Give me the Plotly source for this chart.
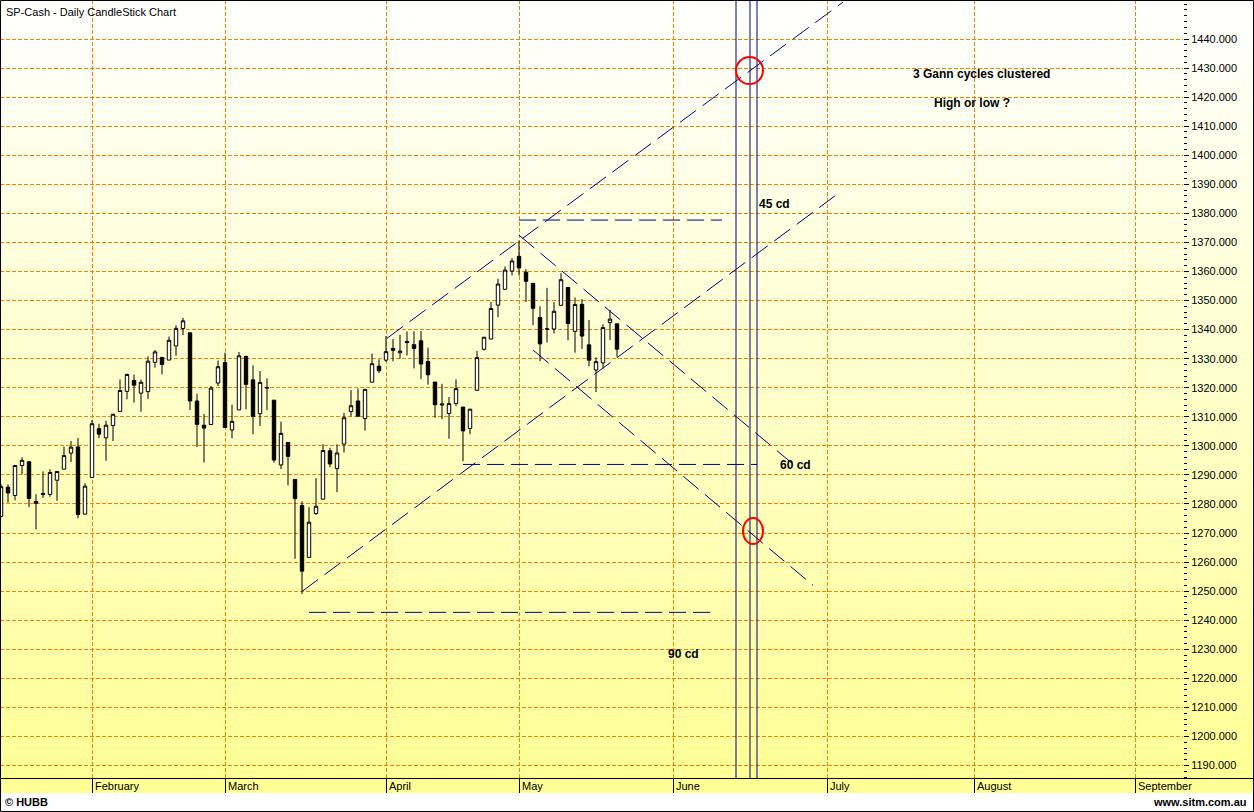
import plotly.graph_objects as go

# ---------------- data (SP-Cash daily) ----------------
dates = ["2011-01-12", "2011-01-13", "2011-01-14", "2011-01-18", "2011-01-19", "2011-01-20",
         "2011-01-21", "2011-01-24", "2011-01-25", "2011-01-26", "2011-01-27", "2011-01-28",
         "2011-01-31", "2011-02-01", "2011-02-02", "2011-02-03", "2011-02-04", "2011-02-07",
         "2011-02-08", "2011-02-09", "2011-02-10", "2011-02-11", "2011-02-14", "2011-02-15",
         "2011-02-16", "2011-02-17", "2011-02-18", "2011-02-22", "2011-02-23", "2011-02-24",
         "2011-02-25", "2011-02-28", "2011-03-01", "2011-03-02", "2011-03-03", "2011-03-04",
         "2011-03-07", "2011-03-08", "2011-03-09", "2011-03-10", "2011-03-11", "2011-03-14",
         "2011-03-15", "2011-03-16", "2011-03-17", "2011-03-18", "2011-03-21", "2011-03-22",
         "2011-03-23", "2011-03-24", "2011-03-25", "2011-03-28", "2011-03-29", "2011-03-30",
         "2011-03-31", "2011-04-01", "2011-04-04", "2011-04-05", "2011-04-06", "2011-04-07",
         "2011-04-08", "2011-04-11", "2011-04-12", "2011-04-13", "2011-04-14", "2011-04-15",
         "2011-04-18", "2011-04-19", "2011-04-20", "2011-04-21", "2011-04-26", "2011-04-27",
         "2011-04-28", "2011-04-29", "2011-05-02", "2011-05-03", "2011-05-04", "2011-05-05",
         "2011-05-06", "2011-05-09", "2011-05-10", "2011-05-11", "2011-05-12", "2011-05-13",
         "2011-05-16", "2011-05-17", "2011-05-18", "2011-05-19", "2011-05-20"]

opens = [1275.65, 1285.78, 1282.90, 1293.22, 1294.52, 1280.85, 1283.63, 1283.29, 1288.17, 1291.97,
         1297.51, 1299.63, 1276.50, 1289.14, 1305.91, 1302.77, 1307.01, 1311.85, 1318.76, 1322.48,
         1318.13, 1318.66, 1328.73, 1330.43, 1329.51, 1334.37, 1340.38, 1338.91, 1315.44, 1307.09,
         1307.34, 1321.61, 1328.64, 1305.47, 1312.37, 1330.73, 1322.72, 1311.05, 1319.92, 1315.72,
         1293.43, 1301.19, 1288.46, 1279.46, 1261.61, 1276.71, 1281.65, 1298.29, 1292.19, 1300.61,
         1311.80, 1315.45, 1309.37, 1321.89, 1327.44, 1329.48, 1333.56, 1332.03, 1335.94, 1334.82,
         1336.16, 1329.01, 1321.96, 1314.03, 1311.13, 1314.54, 1313.35, 1305.99, 1319.12, 1333.23,
         1336.75, 1348.43, 1353.86, 1360.14, 1365.21, 1359.76, 1355.90, 1344.16, 1340.24, 1340.20,
         1348.34, 1354.51, 1339.39, 1348.69, 1334.77, 1326.10, 1328.54, 1342.40, 1342.00]

highs = [1286.87, 1286.70, 1293.24, 1296.06, 1294.60, 1283.35, 1291.21, 1291.93, 1291.26, 1299.74,
         1301.63, 1302.67, 1287.17, 1308.86, 1307.61, 1308.60, 1311.00, 1322.85, 1324.87, 1324.54,
         1322.78, 1330.79, 1332.96, 1330.43, 1337.61, 1341.50, 1344.07, 1338.91, 1317.91, 1310.91,
         1320.61, 1329.38, 1332.09, 1314.19, 1332.28, 1331.08, 1327.68, 1325.74, 1323.21, 1315.72,
         1308.35, 1301.19, 1288.46, 1280.91, 1278.88, 1288.88, 1300.58, 1299.35, 1300.51, 1311.34,
         1319.18, 1319.74, 1319.45, 1331.74, 1329.77, 1337.85, 1336.74, 1338.21, 1339.38, 1339.46,
         1339.46, 1333.77, 1321.96, 1321.35, 1316.79, 1322.88, 1313.35, 1312.70, 1332.66, 1337.49,
         1349.55, 1357.49, 1361.71, 1364.56, 1370.58, 1360.84, 1355.90, 1348.00, 1354.36, 1349.44,
         1359.44, 1354.51, 1351.05, 1350.47, 1343.33, 1330.42, 1341.82, 1346.82, 1342.00]

lows = [1275.65, 1280.47, 1281.24, 1290.16, 1278.92, 1271.26, 1282.07, 1282.47, 1281.07, 1291.97,
        1294.42, 1275.10, 1276.50, 1289.14, 1302.62, 1294.83, 1301.67, 1311.85, 1316.03, 1314.89,
        1311.74, 1316.08, 1326.90, 1324.61, 1329.51, 1331.00, 1338.12, 1312.33, 1299.55, 1294.26,
        1307.34, 1320.55, 1306.14, 1302.58, 1312.37, 1312.59, 1303.99, 1306.86, 1312.27, 1294.21,
        1291.99, 1286.37, 1261.12, 1249.05, 1261.61, 1276.18, 1281.65, 1292.70, 1284.05, 1297.74,
        1310.15, 1310.19, 1305.26, 1321.89, 1325.03, 1328.89, 1329.10, 1330.03, 1331.09, 1326.66,
        1322.94, 1321.06, 1309.66, 1309.19, 1302.42, 1313.68, 1294.70, 1303.97, 1319.12, 1332.82,
        1336.75, 1344.25, 1353.60, 1358.69, 1358.59, 1349.52, 1341.50, 1329.17, 1335.58, 1338.64,
        1348.34, 1336.36, 1332.03, 1333.36, 1327.32, 1318.51, 1326.59, 1336.36, 1330.67]

closes = [1285.96, 1283.76, 1293.24, 1295.02, 1281.92, 1280.26, 1283.35, 1290.84, 1291.18, 1296.63,
          1299.54, 1276.34, 1286.12, 1307.59, 1304.03, 1307.10, 1310.87, 1319.05, 1324.57, 1320.88,
          1321.87, 1329.15, 1332.32, 1328.01, 1336.32, 1340.43, 1343.01, 1315.44, 1307.40, 1306.10,
          1319.88, 1327.22, 1306.33, 1308.44, 1330.97, 1321.15, 1310.13, 1321.82, 1320.02, 1295.11,
          1304.28, 1296.39, 1281.87, 1256.88, 1273.72, 1279.21, 1298.38, 1293.77, 1297.54, 1309.66,
          1313.80, 1310.19, 1319.44, 1328.26, 1325.83, 1332.41, 1332.87, 1332.63, 1335.54, 1333.51,
          1328.17, 1324.46, 1314.16, 1314.41, 1314.52, 1319.68, 1305.14, 1312.62, 1330.36, 1337.38,
          1347.24, 1355.66, 1360.48, 1363.61, 1361.22, 1356.62, 1347.32, 1335.10, 1340.20, 1346.29,
          1357.16, 1342.08, 1348.65, 1337.77, 1329.47, 1328.98, 1340.68, 1343.60, 1333.27]

# bar index of the first bar of each month (future months on weekday spacing)
month_labels = ["February", "March", "April", "May", "June", "July", "August", "September"]
month_idx = [13, 32, 55, 74, 96, 118, 139, 162]

y_ticks = [1190, 1200, 1210, 1220, 1230, 1240, 1250, 1260, 1270, 1280, 1290, 1300, 1310,
           1320, 1330, 1340, 1350, 1360, 1370, 1380, 1390, 1400, 1410, 1420, 1430, 1440]

# Gann cycle dates (bar index)
cycle_idx = [105, 107, 108]
# sloping trend lines: (idx0, price0, idx1, price1)
trend_lines = [(43.0, 1249.9, 119.86, 1387.3),
               (55.14, 1337.0, 120.3, 1452.7),
               (74.0, 1372.5, 113.7, 1292.6),
               (76.04, 1332.9, 116.0, 1252.0)]
# horizontal levels: (idx0, idx1, price)
level_lines = [(74.0, 103.0, 1377.7),
               (66.0, 108.0, 1293.6),
               (44.0, 101.3, 1242.7)]
# highlight ellipses: (idx0, idx1, price0, price1)
circles = [(105.0, 108.86, 1424.5, 1433.8),
           (106.0, 108.86, 1266.2, 1275.2)]
# text notes: (text, idx, price, anchor)
notes = [("45 cd", 108.0, 1383.2, "left"),
         ("60 cd", 111.0, 1293.4, "left"),
         ("90 cd", 95.0, 1228.4, "left"),
         ("3 Gann cycles clustered", 140.1, 1428.0, "center"),
         ("High or low ?", 138.7, 1418.0, "center")]

# ---------------- geometry ----------------
W, H = 1254, 812
ML, MR, MT, MB = 0, 71, 0, 34
PW = W - ML - MR           # 1183
PH = H - MT - MB           # 778
BAR_PX = 7.0
x_lo = -1.0 / BAR_PX
x_hi = x_lo + PW / BAR_PX
y_lo, y_hi = 1185.7, 1453.42

def px_x(p):
    return (p - ML) / PW

def px_y(p):
    return (MT + PH - p) / PH

ORANGE = "#FF8000"
NAVY = "#000080"
FONT = "Liberation Sans"

x = list(range(len(dates)))

fig = go.Figure()
fig.add_trace(go.Candlestick(
    x=x, open=opens, high=highs, low=lows, close=closes,
    text=dates, hoverinfo="text+y",
    increasing=dict(fillcolor="white", line=dict(color="black", width=1)),
    decreasing=dict(fillcolor="black", line=dict(color="black", width=1)),
    whiskerwidth=0, showlegend=False))

shapes = []
# background gradient (white at top -> pale yellow at bottom)
top_c = (255, 255, 255)
bot_c = (255, 255, 150)
n_bands = 78
band_h = 779 / n_bands
for k in range(n_bands):
    t = (k + 0.5) / n_bands
    c = tuple(int(round(top_c[j] + (bot_c[j] - top_c[j]) * t)) for j in range(3))
    shapes.append(dict(type="rect", xref="paper", yref="paper", layer="below",
                       x0=px_x(0), x1=px_x(W), y0=px_y(k * band_h), y1=px_y((k + 1) * band_h + 0.6),
                       fillcolor="rgb(%d,%d,%d)" % c, line=dict(width=0)))
shapes.append(dict(type="rect", xref="paper", yref="paper", layer="below",
                   x0=px_x(0), x1=px_x(W), y0=px_y(778), y1=px_y(793),
                   fillcolor="rgb(%d,%d,%d)" % bot_c, line=dict(width=0)))
# axis baseline across the full width
shapes.append(dict(type="line", xref="paper", yref="paper", x0=px_x(0), x1=px_x(W),
                   y0=px_y(778.5), y1=px_y(778.5), line=dict(color="black", width=1)))

# Gann cycle verticals
for c in cycle_idx:
    shapes.append(dict(type="line", xref="x", yref="paper", x0=c, x1=c, y0=0, y1=1,
                       line=dict(color=NAVY, width=1)))
# trend lines
for (a0, p0, a1, p1) in trend_lines:
    shapes.append(dict(type="line", xref="x", yref="y", x0=a0, y0=p0, x1=a1, y1=p1,
                       line=dict(color=NAVY, width=1, dash="20px,8px")))
for (a0, a1, p) in level_lines:
    shapes.append(dict(type="line", xref="x", yref="y", x0=a0, y0=p, x1=a1, y1=p,
                       line=dict(color=NAVY, width=1, dash="17px,7px")))
for (a0, a1, p0, p1) in circles:
    shapes.append(dict(type="circle", xref="x", yref="y", x0=a0, x1=a1, y0=p0, y1=p1,
                       line=dict(color="#FF0000", width=2)))

# figure border
shapes.append(dict(type="rect", xref="paper", yref="paper",
                   x0=px_x(0.5), x1=px_x(W - 0.5), y0=px_y(H - 0.5), y1=px_y(0.5),
                   line=dict(color="black", width=1), fillcolor="rgba(0,0,0,0)"))

annotations = []
annotations.append(dict(text="SP-Cash - Daily CandleStick Chart", xref="paper", yref="paper",
                        x=px_x(4), y=px_y(12), xanchor="left", yanchor="middle", showarrow=False,
                        font=dict(family=FONT, size=11, color="black")))
for lab, mi in zip(month_labels, month_idx):
    annotations.append(dict(text=lab, xref="x", yref="paper", x=mi + 0.15, y=px_y(786),
                            xanchor="left", yanchor="middle", showarrow=False,
                            font=dict(family=FONT, size=11, color="black")))
for (txt, a, p, anc) in notes:
    annotations.append(dict(text=txt, xref="x", yref="y", x=a, y=p, xanchor=anc,
                            yanchor="middle", showarrow=False,
                            font=dict(family=FONT, size=12, color="black", weight="bold")))
annotations.append(dict(text="© HUBB", xref="paper", yref="paper", x=px_x(3), y=px_y(802),
                        xanchor="left", yanchor="middle", showarrow=False,
                        font=dict(family=FONT, size=11, color="black", weight="bold")))
annotations.append(dict(text="www.sitm.com.au", xref="paper", yref="paper", x=px_x(1249), y=px_y(802),
                        xanchor="right", yanchor="middle", showarrow=False,
                        font=dict(family=FONT, size=11, color="black", weight="bold")))

fig.update_layout(
    width=W, height=H,
    margin=dict(l=ML, r=MR, t=MT, b=MB, pad=0),
    paper_bgcolor="white", plot_bgcolor="rgba(0,0,0,0)",
    showlegend=False,
    shapes=shapes, annotations=annotations,
    xaxis=dict(range=[x_lo, x_hi], tickmode="array", tickvals=month_idx,
               showticklabels=False, ticks="outside", ticklen=14, tickcolor="black", tickwidth=1,
               showgrid=True, gridcolor=ORANGE, griddash="4px,2px", gridwidth=1,
               showline=False, zeroline=False, rangeslider=dict(visible=False), fixedrange=True),
    yaxis=dict(range=[y_lo, y_hi], side="right", tickmode="array", tickvals=y_ticks,
               ticktext=["%.3f" % v for v in y_ticks],
               ticks="outside", ticklen=5, tickcolor="black", tickwidth=1,
               showgrid=True, gridcolor=ORANGE, griddash="4px,2px", gridwidth=1,
               minor=dict(tickmode="linear", tick0=1190, dtick=2, ticks="outside", ticklen=3,
                          tickcolor="black", showgrid=False),
               tickfont=dict(family=FONT, size=11, color="black"),
               showline=False, zeroline=False, fixedrange=True),
)

fig.write_html("out.html", config={"displayModeBar": False},
               post_script="document.body.style.margin='0px';document.body.style.overflow='hidden';")
